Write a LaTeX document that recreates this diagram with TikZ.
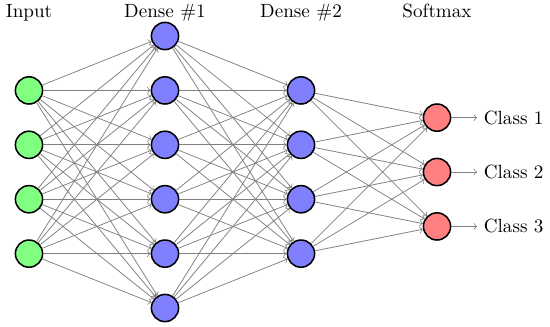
\documentclass[tikz,border=0pt]{standalone}
\begin{document}
\begin{tikzpicture}[
  neuron/.style={circle, draw=black, thick, minimum size=0.5cm, inner sep=0pt},
  inp/.style={neuron, fill=green!50},
  hid/.style={neuron, fill=blue!50},
  outn/.style={neuron, fill=red!50},
  conn/.style={->, gray},
  head/.style={anchor=base}
]
\useasboundingbox (0,0) rectangle (10.11,-6.01);
% layer titles
\node[head] (tin) at (0.533,-0.33) {Input};
\node[head] (td1) at (3.033,-0.33) {Dense \#1};
\node[head] (td2) at (5.533,-0.33) {Dense \#2};
\node[head] (tsm) at (8.033,-0.33) {Softmax};
% input layer
\foreach \i in {1,...,4} {
  \node[inp] (I\i) at (0.533,{-0.662-\i}) {};
}
% dense 1
\foreach \i in {1,...,6} {
  \node[hid] (A\i) at (3.033,{-0.662-(\i-1)}) {};
}
% dense 2
\foreach \i in {1,...,4} {
  \node[hid] (B\i) at (5.533,{-0.662-\i}) {};
}
% softmax
\foreach \i in {1,...,3} {
  \node[outn] (S\i) at (8.033,{-1.162-\i}) {};
}
% connections
\foreach \i in {1,...,4} \foreach \j in {1,...,6} \draw[conn] (I\i) -- (A\j);
\foreach \i in {1,...,6} \foreach \j in {1,...,4} \draw[conn] (A\i) -- (B\j);
\foreach \i in {1,...,4} \foreach \j in {1,...,3} \draw[conn] (B\i) -- (S\j);
% class labels
\foreach \i in {1,...,3} {
  \node[anchor=west] (C\i) at (8.77,{-1.162-\i}) {Class \i};
  \draw[conn] (S\i) -- (C\i);
}
\end{tikzpicture}
\end{document}
